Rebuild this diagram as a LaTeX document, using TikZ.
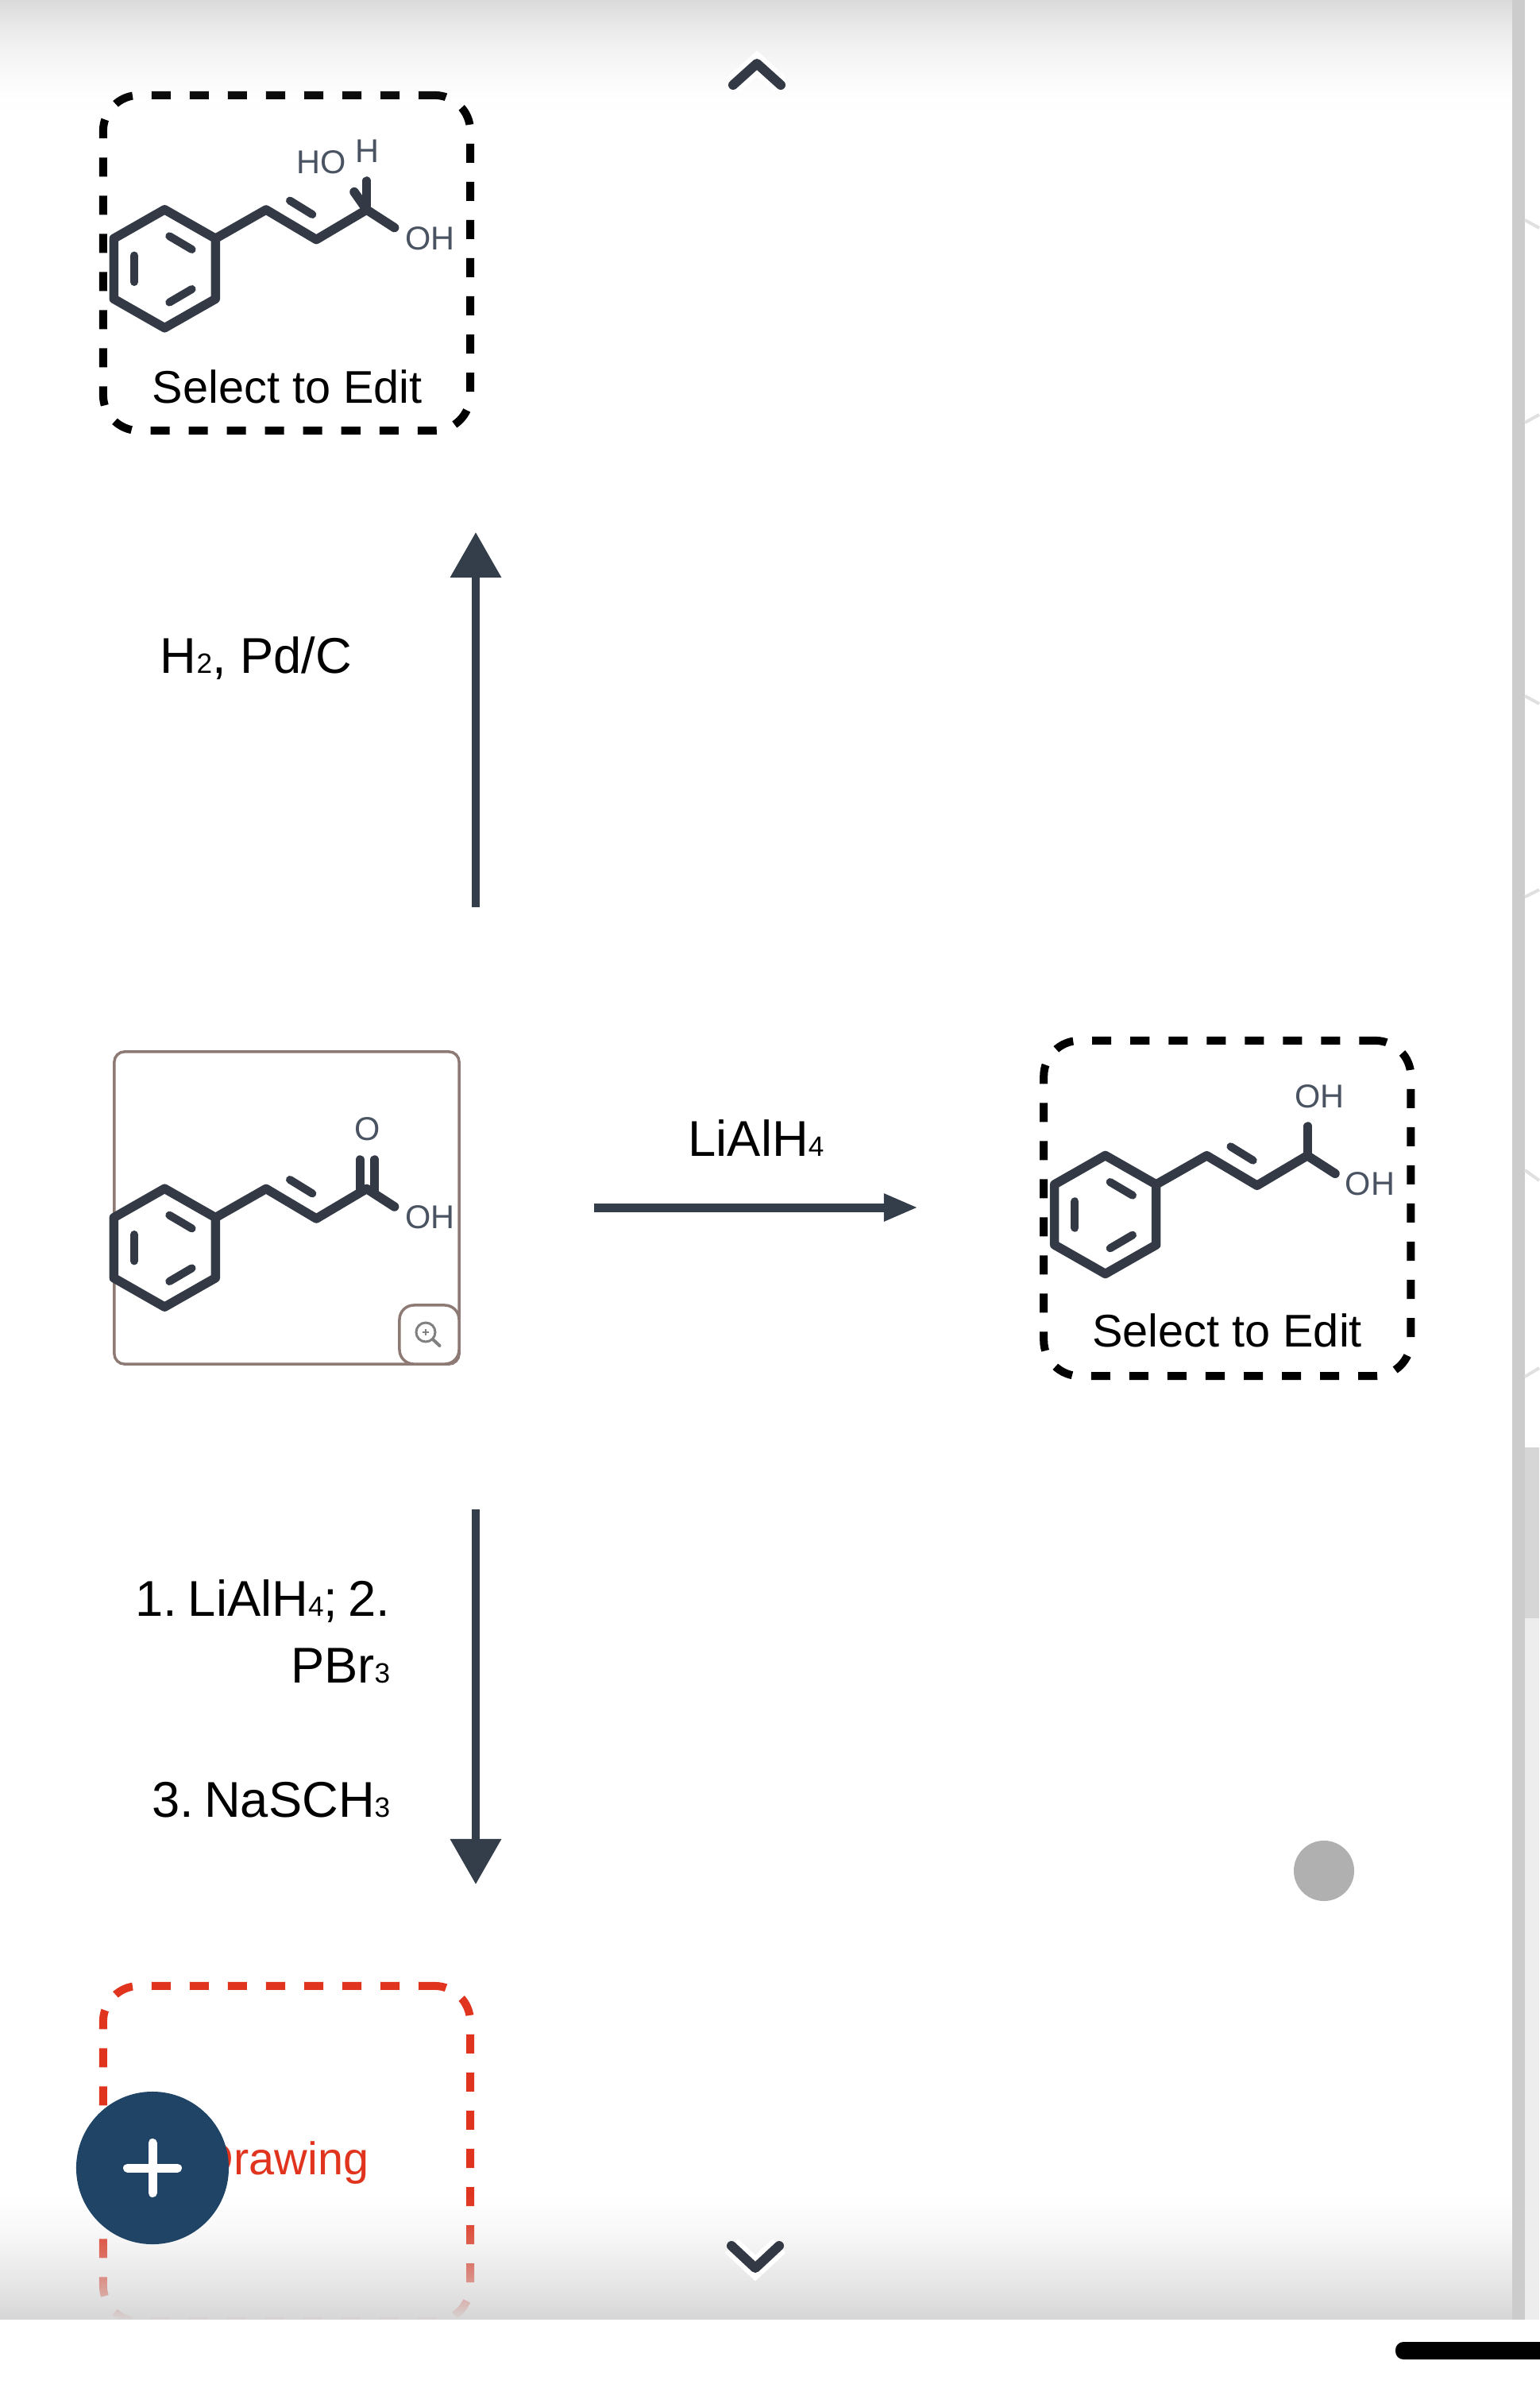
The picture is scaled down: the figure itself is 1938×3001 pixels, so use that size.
\documentclass[tikz,border=0pt]{standalone}
\usepackage{fontspec}
\setmainfont{Liberation Sans}
\usetikzlibrary{arrows.meta}
\definecolor{bondcol}{HTML}{333A46}
\definecolor{atomcol}{HTML}{4A5361}
\definecolor{arrowcol}{HTML}{343D4A}
\definecolor{framecol}{HTML}{8D7A74}
\definecolor{alertcol}{HTML}{E0341E}
\definecolor{plusbg}{HTML}{1F4465}
\newcommand{\lowdig}[1]{{\fontsize{10}{10}\selectfont #1}}
\newcommand{\numgap}{\hspace{0.21em}}
\tikzset{
  bond/.style={draw=bondcol, line width=0.115cm, line cap=round, line join=round},
  atom/.style={font=\fontsize{11.8}{14}\selectfont, text=atomcol, inner sep=0},
  editbox/.style={draw=black, rounded corners=0.45cm, line width=0.1cm, dash pattern=on 0.24cm off 0.24cm, dash phase=0.04cm,
    minimum width=4.62cm, minimum height=4.22cm, inner sep=0},
  edittext/.style={font=\fontsize{16.4}{19}\selectfont, inner sep=0},
  reagent/.style={font=\fontsize{18}{24}\selectfont, inner sep=0},
  chevron/.style={draw=bondcol, line width=0.12cm, line cap=round, line join=round,
    preaction={draw=white, line width=0.24cm}},
}
\tikzset{
  cinnamyl/.pic={
    \draw[bond] (0,-74.5) -- (64,-38) -- (64,38) -- (0,74.5) -- (-64,38) -- (-64,-38) -- cycle;
    \draw[bond] (64,-38) -- (127.7,-74.3) -- (191,-36.7) -- (254.3,-74.3) -- (289.3,-51.7);
    \draw[bond, line width=0.1cm] (157.7,-85.7) -- (186,-68.3);
    \draw[bond, line width=0.1cm] (6,-41) -- (34.3,-24.3);
    \draw[bond, line width=0.1cm] (-38.3,-16.7) -- (-38.3,16.7);
    \draw[bond, line width=0.1cm] (6,42.3) -- (34.3,25.7);
  }
}
\begin{document}
\begin{tikzpicture}[x=0.01cm, y=-0.01cm, >={Triangle[length=0.57cm,width=0.62cm]}]
  \useasboundingbox (0,0) rectangle (1938,3001);

  % upper box
  \node[editbox] (boxup) at (361,331) {};
  \pic at (207.3,338.3) {cinnamyl};
  \draw[bond] (461.6,264) -- (461.6,228);
  \draw[bond] (461.6,264) -- (446,241.6);
  \node[atom] (houp) at (405,204) {HO};
  \node[atom] (hup) at (462.7,190) {H};
  \node[atom] (ohup) at (541.7,300) {OH};
  \node[edittext] (editup) at (361.7,486.7) {Select to Edit};

  % start material
  \node[draw=framecol, line width=0.035cm, rounded corners=0.13cm, minimum width=4.34cm, minimum height=3.93cm, inner sep=0] (startbox) at (361,1520.5) {};
  \pic at (207.3,1570.7) {cinnamyl};
  \draw[bond] (453.3,1499.7) -- (453.3,1460);
  \draw[bond] (471.6,1499.7) -- (471.6,1460);
  \node[atom] (ostart) at (462.3,1421.7) {O};
  \node[atom] (ohstart) at (541.7,1532) {OH};
  \node[draw=framecol, fill=white, line width=0.035cm, rounded corners=0.18cm, minimum width=0.75cm, minimum height=0.74cm, inner sep=0] (zoombtn) at (540.5,1680) {};
  \draw[gray, line width=0.03cm] (536,1677) circle (12);
  \draw[gray, line width=0.04cm, line cap=round] (545,1686) -- (553.5,1694);
  \draw[gray, line width=0.025cm] (532,1677) -- (540,1677) (536,1673) -- (536,1681);

  % right box
  \node[editbox] (boxright) at (1545.3,1521) {};
  \pic at (1391.7,1529) {cinnamyl};
  \draw[bond] (1646.7,1455) -- (1646.7,1418);
  \node[atom] (ohrighta) at (1661.7,1380.7) {OH};
  \node[atom] (ohrightb) at (1725,1490) {OH};
  \node[edittext] (editright) at (1545,1675) {Select to Edit};

  % lower box
  \node[editbox, draw=alertcol] (boxdown) at (361,2711) {};
  \node[edittext, text=alertcol, anchor=base east] (drawtext) at (465,2737) {Drawing};

  % arrows
  \coordinate (upfoot) at (599,1142);
  \coordinate (uptip) at (599,670);
  \coordinate (rightfoot) at (748,1520);
  \coordinate (righttip) at (1156,1520);
  \coordinate (downfoot) at (599,1900);
  \coordinate (downtip) at (599,2372);
  \draw[->, draw=arrowcol, fill=arrowcol, line width=0.1cm] (upfoot) -- (uptip);
  \draw[->, draw=arrowcol, fill=arrowcol, line width=0.1cm] (downfoot) -- (downtip);
  \draw[-{Triangle[length=0.43cm,width=0.32cm]}, draw=arrowcol, fill=arrowcol, line width=0.11cm] (rightfoot) -- (righttip);

  \node[reagent] (hydrogen) at (322.5,829) {H\lowdig{2}, Pd/C};
  \node[reagent, anchor=base] (hydride) at (952,1455) {LiAlH\lowdig{4}};
  \node[reagent, align=right, anchor=north east] (steps) at (492,1988) {1.\numgap LiAlH\lowdig{4};\numgap 2.\\PBr\lowdig{3}\\[24pt]3.\numgap NaSCH\lowdig{3}};

  \node[circle, fill=black!31, minimum size=0.76cm, inner sep=0] (graydot) at (1667,2355) {};

  % screen edges
  \foreach \i in {0,...,50} {
    \pgfmathsetmacro{\op}{(1-\i/51)^2}
    \fill[black!14, opacity=\op] (0,3*\i) rectangle (1904,3*\i+3);
  }
  \foreach \i in {0,...,54} {
    \pgfmathsetmacro{\op}{((\i+1)/55)^1.5}
    \fill[black!16, opacity=\op] (0,2757+3*\i) rectangle (1904,2760+3*\i);
  }
  \fill[white] (0,2920) rectangle (1938,3001);
  \fill[black!20] (1904,0) rectangle (1920,2920);
  \fill[black!16] (1920,1822) rectangle (1938,2037);
  \fill[black!7] (1920,2037) rectangle (1938,2920);
  \foreach \ya/\yb in {277/287, 532/522, 876/886, 1129/1120, 1473/1486, 1733/1722} {
    \draw[black!12, line width=0.04cm] (1920,\ya) -- (1938,\yb);
  }
  \fill[black, rounded corners=0.1cm] (1757,2948) rectangle (1960,2970);

  % scroll hints
  \coordinate (chevupa) at (923,107);
  \coordinate (chevupb) at (953,80);
  \coordinate (chevupc) at (983,107);
  \coordinate (chevdowna) at (921,2827);
  \coordinate (chevdownb) at (951,2855);
  \coordinate (chevdownc) at (981,2827);
  \draw[chevron] (chevupa) -- (chevupb) -- (chevupc);
  \draw[chevron] (chevdowna) -- (chevdownb) -- (chevdownc);

  \node[circle, fill=plusbg, minimum size=1.92cm, inner sep=0] (addbtn) at (192,2729) {};
  \draw[white, line width=0.11cm, line cap=round] (160.5,2729) -- (223.5,2729) (192,2697.5) -- (192,2760.5);
\end{tikzpicture}
\end{document}
